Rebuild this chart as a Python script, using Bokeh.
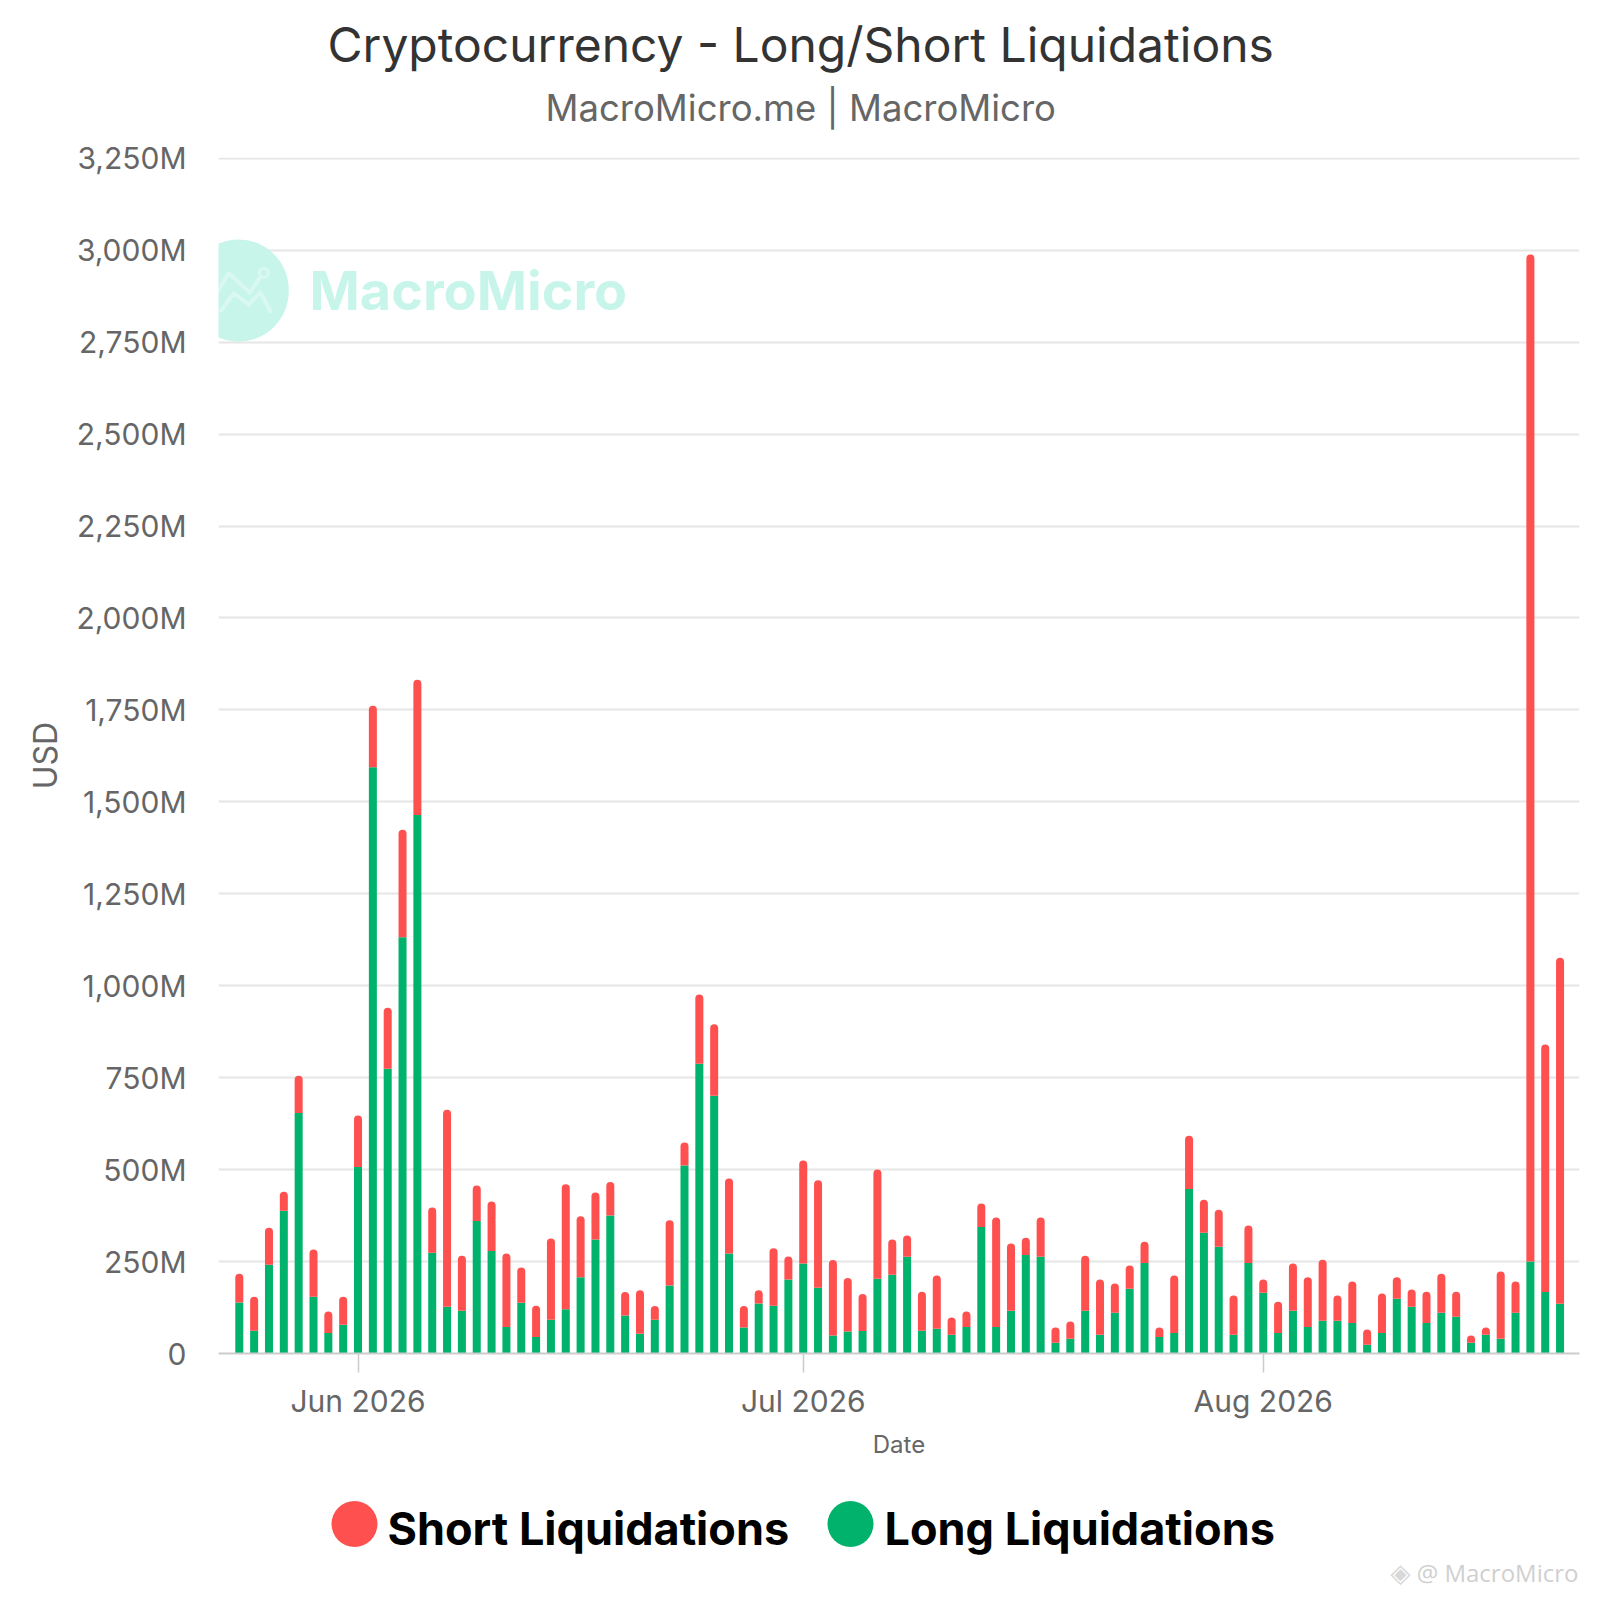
import numpy as np
import pandas as pd
from bokeh.embed import file_html
from bokeh.layouts import column
from bokeh.core.properties import value
from bokeh.models import (ColumnDataSource, CustomJSTickFormatter, DatetimeTickFormatter,
                          FixedTicker, Label, PolyAnnotation, Range1d, Title)
from bokeh.plotting import figure
from bokeh.resources import INLINE

# ---------------- data (USD, millions) ----------------
dates = pd.date_range("2026-05-24", "2026-08-21", freq="D")

long_liq = [139, 62, 241, 388, 654, 154, 56, 78, 507, 1594,
            774, 1132, 1464, 274, 127, 116, 360, 279, 72, 138,
            45, 92, 120, 207, 310, 375, 103, 54, 92, 185,
            511, 788, 701, 272, 71, 136, 130, 201, 245, 179,
            49, 60, 61, 203, 214, 263, 62, 67, 51, 72,
            344, 72, 116, 268, 263, 29, 40, 116, 51, 111,
            176, 246, 45, 56, 447, 328, 290, 51, 246, 165,
            56, 116, 72, 89, 89, 83, 24, 56, 149, 127,
            83, 111, 100, 29, 51, 40, 111, 250, 167, 135]

short_liq = [78, 92, 101, 52, 101, 129, 58, 76, 140, 167,
             166, 292, 368, 123, 536, 150, 97, 134, 200, 96,
             85, 221, 340, 166, 128, 91, 64, 118, 37, 177,
             63, 188, 194, 204, 58, 36, 156, 63, 280, 292,
             205, 145, 101, 297, 96, 58, 106, 145, 47, 42,
             64, 298, 183, 47, 107, 42, 47, 150, 150, 79,
             63, 58, 26, 156, 145, 90, 101, 107, 102, 36,
             85, 129, 135, 166, 69, 113, 41, 107, 58, 47,
             85, 106, 68, 20, 20, 183, 85, 2738, 673, 941]

series_names = ["Short Liquidations", "Long Liquidations"]
series_colors = ["#ff5050", "#00b26b"]
month_ticks = ["2026-06-01", "2026-07-01", "2026-08-01"]
y_ticks = list(range(0, 3251, 250))

title_text = "Cryptocurrency - Long/Short Liquidations"
subtitle_text = "MacroMicro.me | MacroMicro"
brand_text = "MacroMicro"
credit_text = "@ MacroMicro"
FONT = "Inter"


def ms(ts):
    return (pd.Timestamp(ts) - pd.Timestamp("1970-01-01")).total_seconds() * 1000.0


DAY = 86400000.0
long_arr = np.array(long_liq, dtype=float)
short_arr = np.array(short_liq, dtype=float)
src = ColumnDataSource(data=dict(date=dates, long=long_arr, total=long_arr + short_arr))

# ---------------- layout constants (pixels) ----------------
W = 1592
MAIN_H = 1465
LEG_H = 127
FR_L, FR_R, FR_T, FR_B = 218, 1579, 157, 1352.7
Y_TOP = 3252           # a hair above the last tick so its grid line is drawn
PX_PER_DAY = 14.84
X0_PX = 238.8          # pixel of first date
x_start = ms(dates[0]) - (X0_PX - FR_L) / PX_PER_DAY * DAY
x_end = ms(dates[0]) + (FR_R - X0_PX) / PX_PER_DAY * DAY
PX_PER_M = (FR_B - FR_T) / Y_TOP


def xd(px):  # decoration helper: canvas pixel -> data x
    return ms(dates[0]) + (px - X0_PX) / PX_PER_DAY * DAY


def yd(py):  # decoration helper: canvas pixel -> data y
    return (FR_B - py) / PX_PER_M


p = figure(width=W, height=MAIN_H, output_backend="svg", toolbar_location=None,
           x_axis_type="datetime", x_range=Range1d(x_start, x_end), y_range=Range1d(0, Y_TOP),
           min_border_left=FR_L, min_border_right=W - FR_R, min_border_top=FR_T,
           min_border_bottom=int(round(MAIN_H - FR_B)),
           background_fill_color="white", border_fill_color="white")
p.outline_line_color = None

# ---------------- titles ----------------
p.title.text = title_text
p.title.text_font = FONT
p.title.text_font_size = "48px"
p.title.text_font_style = "normal"
p.title.text_color = "#333333"
p.title.align = "left"
p.title.offset = 109
p.title.standoff = -34

sub = Title(text=subtitle_text, text_font=FONT, text_font_size="36.5px", text_font_style="normal",
            text_color="#666666", align="left", offset=327, standoff=55)
p.add_layout(sub, "above")

# ---------------- watermark ----------------
p.add_layout(Label(x=xd(238), y=yd(290), text=" ", text_font_size="2px",
                   text_align="center", text_baseline="middle",
                   background_fill_color="#c8f5ea", padding=50, border_radius=51))
icon_a = [(205, 310), (228.3, 272.7), (249.3, 292), (258.7, 278.3)]
icon_b = [(220.7, 310), (233.3, 292.7), (248.3, 304), (260, 291.7), (270, 311)]
for pts in (icon_a, icon_b):
    path = pts + pts[-2:0:-1]
    p.add_layout(PolyAnnotation(xs=[xd(a) for a, b in path], ys=[yd(b) for a, b in path],
                                fill_alpha=0, line_color="white", line_width=4,
                                line_join="round", line_cap="round"))
ring = np.linspace(0, 2 * np.pi, 16, endpoint=False)
p.add_layout(PolyAnnotation(xs=[xd(263.3 + 4.5 * np.cos(t)) for t in ring],
                            ys=[yd(272.3 + 4.5 * np.sin(t)) for t in ring],
                            fill_alpha=0, line_color="white", line_width=3))
p.add_layout(Label(x=xd(309), y=yd(289.5), text=brand_text, text_font=FONT,
                   text_font_size="54px", text_font_style="bold", text_color="#c8f5ea",
                   text_align="left", text_baseline="middle"))

# ---------------- bars ----------------
bar_w = 0.54 * DAY
p.vbar(x="date", width=bar_w, bottom=0, top="long", source=src,
       fill_color=series_colors[1], line_color=None)
p.vbar(x="date", width=bar_w, bottom="long", top="total", source=src,
       fill_color=series_colors[0], line_color=None, border_radius=(4, 4, 0, 0))

# ---------------- axes ----------------
p.yaxis.ticker = FixedTicker(ticks=y_ticks)
p.yaxis.formatter = CustomJSTickFormatter(
    code="return tick == 0 ? '0' : tick.toLocaleString('en-US') + 'M';")
p.yaxis.axis_line_color = None
p.yaxis.major_tick_line_color = None
p.yaxis.minor_tick_line_color = None
p.yaxis.major_label_standoff = 26
p.yaxis.major_label_text_font = FONT
p.yaxis.major_label_text_font_size = "30px"
p.yaxis.major_label_text_color = "#666666"
p.yaxis.axis_label = "USD"
p.yaxis.axis_label_text_font = FONT
p.yaxis.axis_label_text_font_size = "32px"
p.yaxis.axis_label_text_font_style = "normal"
p.yaxis.axis_label_text_color = "#666666"
p.yaxis.axis_label_standoff = 8

p.xaxis.ticker = FixedTicker(ticks=[ms(t) for t in month_ticks])
p.xaxis.formatter = DatetimeTickFormatter(days="%b %Y", months="%b %Y", years="%b %Y")
p.xaxis.axis_line_color = "#cccccc"
p.xaxis.axis_line_width = 2
p.xaxis.major_tick_line_color = "#cccccc"
p.xaxis.major_tick_line_width = 1.5
p.xaxis.major_tick_out = 19
p.xaxis.major_tick_in = 0
p.xaxis.minor_tick_line_color = None
p.xaxis.major_label_standoff = 10
p.xaxis.major_label_text_font = FONT
p.xaxis.major_label_text_font_size = "30px"
p.xaxis.major_label_text_color = "#666666"
p.xaxis.axis_label = "Date"
p.xaxis.axis_label_text_font = FONT
p.xaxis.axis_label_text_font_size = "24px"
p.xaxis.axis_label_text_font_style = "normal"
p.xaxis.axis_label_text_color = "#666666"
p.xaxis.axis_label_standoff = 8

p.xgrid.grid_line_color = None
p.ygrid.grid_line_color = "#e6e6e6"
p.ygrid.grid_line_width = 2

# ---------------- legend strip (second figure, pixel coordinates) ----------------
leg = figure(width=W, height=LEG_H, output_backend="svg", toolbar_location=None,
             x_range=Range1d(FR_L, FR_R), y_range=Range1d(0, LEG_H),
             x_axis_location=None, y_axis_location=None,
             min_border_left=FR_L, min_border_right=W - FR_R, min_border_top=0, min_border_bottom=0,
             background_fill_color="white", border_fill_color="white")
leg.outline_line_color = None
leg.grid.visible = False

leg_marker_x = [354, 850]
leg_text_x = [387, 884]
leg_marker_y = LEG_H - (1523.5 - MAIN_H)
leg_text_y = LEG_H - (1527.5 - MAIN_H)

leg_src = ColumnDataSource(data=dict(mx=leg_marker_x, my=[leg_marker_y] * 2,
                                     tx=leg_text_x, ty=[leg_text_y] * 2,
                                     name=series_names, color=series_colors))
leg.scatter(x="mx", y="my", source=leg_src, marker="circle", size=46,
            fill_color="color", line_color=None)
leg.text(x="tx", y="ty", text="name", source=leg_src, text_font=value(FONT),
         text_font_size="45px", text_font_style="bold", text_color="black",
         text_align="left", text_baseline="middle")
credit_y = LEG_H - (1572 - MAIN_H)
leg.text(x=[1578], y=[credit_y], text=[credit_text], text_font=value("Open Sans"),
         text_font_size="24px", text_color="#d0d0d0", text_align="right", text_baseline="middle")
leg.text(x=[1410], y=[credit_y], text=["◈"], text_font=value("DejaVu Sans"),
         text_font_size="26px", text_color="#d8d8d8", text_align="right", text_baseline="middle")

layout = column(p, leg, spacing=0)

with open("out.html", "w") as f:
    f.write(file_html(layout, INLINE))
